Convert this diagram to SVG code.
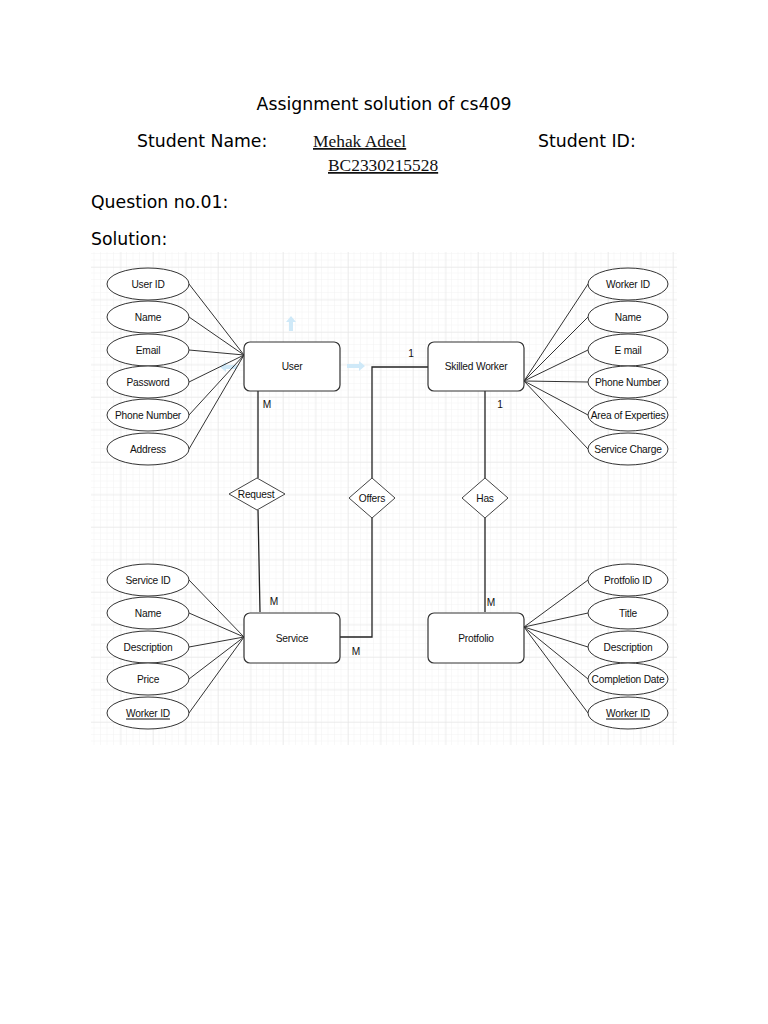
<svg xmlns="http://www.w3.org/2000/svg" width="768" height="1024" viewBox="0 0 768 1024">
<defs>
<pattern id="minor" x="88" y="234.5" width="6.5" height="6.5" patternUnits="userSpaceOnUse">
<path d="M6.5 0V6.5M0 6.5H6.5" fill="none" stroke="#f3f3f3" stroke-width="1"/>
</pattern>
<pattern id="major" x="88" y="234.5" width="32.5" height="32.5" patternUnits="userSpaceOnUse">
<path d="M0 0V32.5M0 0H32.5" fill="none" stroke="#e3e3e3" stroke-width="1"/>
</pattern>
<style>
.hd{font-family:"DejaVu Sans",sans-serif;font-size:17.3px;fill:#000}
.sf{font-family:"Liberation Serif",serif;font-size:17.4px;fill:#111;text-decoration:underline}
.t{font-family:"Liberation Sans",Arial,sans-serif;font-size:10.2px;fill:#111;text-anchor:middle;dominant-baseline:central;letter-spacing:-0.2px}
.u{text-decoration:underline}
.att{fill:#fff;stroke:#333;stroke-width:1}
.ent{fill:#fff;stroke:#333;stroke-width:1.2}
.rel{fill:#fff;stroke:#444;stroke-width:1}
.ln{fill:none;stroke:#333;stroke-width:1}
.lc{fill:none;stroke:#222;stroke-width:1.3}
.hv{fill:#cfe9f8}
</style>
</defs>
<rect width="768" height="1024" fill="#fff"/>
<g id="header">
<text class="hd" x="384" y="110" text-anchor="middle">Assignment solution of cs409</text>
<text class="hd" x="137" y="147">Student Name:</text>
<text class="sf" x="313" y="147">Mehak Adeel</text>
<text class="hd" x="538" y="147">Student ID:</text>
<text class="sf" x="328" y="171">BC2330215528</text>
<text class="hd" x="91" y="208">Question no.01:</text>
<text class="hd" x="91" y="245">Solution:</text>
</g>
<g id="grid">
<rect x="91" y="252" width="586" height="493" fill="url(#minor)"/>
<rect x="91" y="252" width="586" height="493" fill="url(#major)"/>
</g>
<g id="hover-arrows">
<polygon class="hv" points="291,316 296,322 293,322 293,331 289,331 289,322 286,322"/>
<polygon class="hv" points="365,366 359,361 359,364 347,364 347,368 359,368 359,371"/>
<polygon class="hv" points="220,367 226,362 226,365 237,365 237,369 226,369 226,372"/>
</g>
<g id="connectors">
<path class="ln" d="M189,284 L244,355 M189,317 L244,355 M189,350 L244,355 M189,382 L244,355 M189,415 L244,355 M189,449 L244,355"/>
<path class="ln" d="M588,284 L524,381 M588,317 L524,381 M588,350 L524,381 M588,382 L524,381 M588,415 L524,381 M588,449 L524,381"/>
<path class="ln" d="M189,580 L244,637 M189,613 L244,637 M189,647 L244,637 M189,679 L244,637 M189,713 L244,637"/>
<path class="ln" d="M588,580 L524,627 M588,613 L524,627 M588,647 L524,627 M588,679 L524,627 M588,713 L524,627"/>
<path class="lc" d="M258,391 L258,478 M258,510 L260,612"/>
<path class="lc" d="M428,367 H372 V478 M372,518 V637 H340"/>
<path class="lc" d="M485,391 V478 M485,518 V612"/>
<text class="t" x="411" y="353">1</text>
<text class="t" x="356" y="651">M</text>
<text class="t" x="267" y="404">M</text>
<text class="t" x="274" y="601">M</text>
<text class="t" x="500" y="404">1</text>
<text class="t" x="491" y="602">M</text>
</g>
<g id="user"><rect class="ent" x="244" y="342" width="96" height="49" rx="6"/><text class="t" x="292" y="366">User</text></g>
<g id="skilled-worker"><rect class="ent" x="428" y="342" width="96" height="49" rx="6"/><text class="t" x="476" y="366">Skilled Worker</text></g>
<g id="service"><rect class="ent" x="244" y="613" width="96" height="50" rx="6"/><text class="t" x="292" y="638">Service</text></g>
<g id="protfolio"><rect class="ent" x="428" y="613" width="96" height="50" rx="6"/><text class="t" x="476" y="638">Protfolio</text></g>
<g id="request"><polygon class="rel" points="257,478 285,494 257,510 229,494"/><text class="t" x="256" y="494">Request</text></g>
<g id="offers"><polygon class="rel" points="372,478 395,498 372,518 349,498"/><text class="t" x="372" y="498">Offers</text></g>
<g id="has"><polygon class="rel" points="485,478 508,498 485,518 462,498"/><text class="t" x="485" y="498">Has</text></g>
<g id="user-attrs">
<g id="u-userid"><ellipse class="att" cx="148" cy="284" rx="41" ry="16"/><text class="t" x="148" y="284">User ID</text></g>
<g id="u-name"><ellipse class="att" cx="148" cy="317" rx="41" ry="16"/><text class="t" x="148" y="317">Name</text></g>
<g id="u-email"><ellipse class="att" cx="148" cy="350" rx="41" ry="16"/><text class="t" x="148" y="350">Email</text></g>
<g id="u-password"><ellipse class="att" cx="148" cy="382" rx="41" ry="16"/><text class="t" x="148" y="382">Password</text></g>
<g id="u-phone"><ellipse class="att" cx="148" cy="415" rx="41" ry="16"/><text class="t" x="148" y="415">Phone Number</text></g>
<g id="u-address"><ellipse class="att" cx="148" cy="449" rx="41" ry="16"/><text class="t" x="148" y="449">Address</text></g>
</g>
<g id="worker-attrs">
<g id="w-workerid"><ellipse class="att" cx="628" cy="284" rx="40" ry="16"/><text class="t" x="628" y="284">Worker ID</text></g>
<g id="w-name"><ellipse class="att" cx="628" cy="317" rx="40" ry="16"/><text class="t" x="628" y="317">Name</text></g>
<g id="w-email"><ellipse class="att" cx="628" cy="350" rx="40" ry="16"/><text class="t" x="628" y="350">E mail</text></g>
<g id="w-phone"><ellipse class="att" cx="628" cy="382" rx="40" ry="16"/><text class="t" x="628" y="382">Phone Number</text></g>
<g id="w-area"><ellipse class="att" cx="628" cy="415" rx="40" ry="16"/><text class="t" x="628" y="415">Area of Experties</text></g>
<g id="w-charge"><ellipse class="att" cx="628" cy="449" rx="40" ry="16"/><text class="t" x="628" y="449">Service Charge</text></g>
</g>
<g id="service-attrs">
<g id="s-id"><ellipse class="att" cx="148" cy="580" rx="41" ry="16"/><text class="t" x="148" y="580">Service ID</text></g>
<g id="s-name"><ellipse class="att" cx="148" cy="613" rx="41" ry="16"/><text class="t" x="148" y="613">Name</text></g>
<g id="s-desc"><ellipse class="att" cx="148" cy="647" rx="41" ry="16"/><text class="t" x="148" y="647">Description</text></g>
<g id="s-price"><ellipse class="att" cx="148" cy="679" rx="41" ry="16"/><text class="t" x="148" y="679">Price</text></g>
<g id="s-workerid"><ellipse class="att" cx="148" cy="713" rx="41" ry="16"/><text class="t u" x="148" y="713">Worker ID</text></g>
</g>
<g id="portfolio-attrs">
<g id="p-id"><ellipse class="att" cx="628" cy="580" rx="40" ry="16"/><text class="t" x="628" y="580">Protfolio ID</text></g>
<g id="p-title"><ellipse class="att" cx="628" cy="613" rx="40" ry="16"/><text class="t" x="628" y="613">Title</text></g>
<g id="p-desc"><ellipse class="att" cx="628" cy="647" rx="40" ry="16"/><text class="t" x="628" y="647">Description</text></g>
<g id="p-date"><ellipse class="att" cx="628" cy="679" rx="40" ry="16"/><text class="t" x="628" y="679">Completion Date</text></g>
<g id="p-workerid"><ellipse class="att" cx="628" cy="713" rx="40" ry="16"/><text class="t u" x="628" y="713">Worker ID</text></g>
</g>
</svg>
